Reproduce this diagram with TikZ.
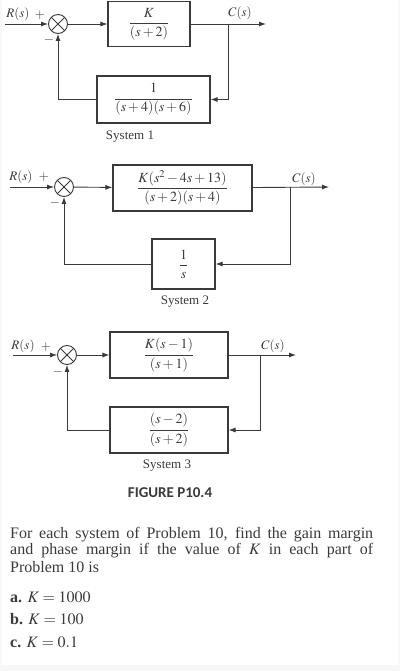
\documentclass[tikz,border=0pt]{standalone}
\usepackage{amsmath}
\usepackage{mathptmx}
\usepackage[no-math]{fontspec}
\setmainfont{Liberation Serif}
\newfontfamily\capfont{Carlito}
\usetikzlibrary{arrows.meta}
\definecolor{ink}{HTML}{3A3A3A}
\begin{document}
\begin{tikzpicture}[x=1pt,y=-1pt]
  \tikzset{blk/.style={draw=ink,line width=1.1pt,rectangle,inner sep=0pt,font=\fontsize{14}{16}\selectfont,text=ink},
    sumj/.style={draw=ink,line width=0.9pt,circle,minimum size=19pt,inner sep=0pt,
      path picture={\draw[ink,line width=0.9pt] (path picture bounding box.north west)--(path picture bounding box.south east)
        (path picture bounding box.north east)--(path picture bounding box.south west);}},
    sig/.style={draw=ink,line width=0.9pt},
    arr/.style={sig,-{Latex[length=7pt,width=5pt]}},
    lbl/.style={font=\fontsize{13}{15}\selectfont,text=ink,inner sep=0pt},
    txt/.style={font=\fontsize{16}{18}\selectfont,text=ink,inner sep=0pt,anchor=west}}
  \useasboundingbox (0,0) rectangle (400,671);
  \fill[black!3] (0,0) rectangle (400,671);
  \fill[white] (2,0) rectangle (398,665);
  % system 1
  \coordinate (r1) at (5,24);
  \node[sumj] (s1) at (58,24) {};
  \node[blk,minimum width=82pt,minimum height=45pt] (g1) at (149,24) {$\dfrac{K}{(s+2)}$};
  \coordinate (b1) at (228,24);
  \coordinate (o1) at (266,24);
  \node[blk,minimum width=113pt,minimum height=47pt] (h1) at (153.5,99.5) {$\dfrac{1}{(s+4)(s+6)}$};
  \node[lbl] (rs1) at (18,14) {$R(s)$};
  \node[lbl] (cs1) at (240,13) {$C(s)$};
  \node[lbl] (p1) at (40,15) {$+$};
  \node[lbl] (m1) at (49,40) {$-$};
  \node[lbl] (t1) at (130,137) {System 1};
  \draw[arr] (r1) -- (s1);
  \draw[arr] (s1) -- (g1);
  \draw[arr] (g1) -- (o1);
  \draw[arr] (b1) |- (h1);
  \draw[arr] (h1) -| (s1);
  % system 2
  \coordinate (r2) at (10,187);
  \node[sumj] (s2) at (64,187) {};
  \node[blk,minimum width=139pt,minimum height=46pt] (g2) at (182.5,188) {$\dfrac{K(s^2-4s+13)}{(s+2)(s+4)}$};
  \coordinate (b2) at (290,187);
  \coordinate (o2) at (329,187);
  \node[blk,minimum width=63pt,minimum height=50pt] (h2) at (183.5,264) {$\dfrac{1}{s}$};
  \node[lbl] (rs2) at (21,177) {$R(s)$};
  \node[lbl] (cs2) at (304,179) {$C(s)$};
  \node[lbl] (p2) at (44,177) {$+$};
  \node[lbl] (m2) at (55,203) {$-$};
  \node[lbl] (t2) at (185,302) {System 2};
  \draw[arr] (r2) -- (s2);
  \draw[arr] (s2) -- (g2);
  \draw[arr] (g2) -- (o2);
  \draw[arr] (b2) |- (h2);
  \draw[arr] (h2) -| (s2);
  % system 3
  \coordinate (r3) at (13,355);
  \node[sumj] (s3) at (67,355) {};
  \node[blk,minimum width=118pt,minimum height=46pt] (g3) at (169,355) {$\dfrac{K(s-1)}{(s+1)}$};
  \coordinate (b3) at (260,355);
  \coordinate (o3) at (296,355);
  \node[blk,minimum width=118pt,minimum height=46pt] (h3) at (169,430) {$\dfrac{(s-2)}{(s+2)}$};
  \node[lbl] (rs3) at (23,346) {$R(s)$};
  \node[lbl] (cs3) at (273,346) {$C(s)$};
  \node[lbl] (p3) at (46,347) {$+$};
  \node[lbl] (m3) at (58,372) {$-$};
  \node[lbl] (t3) at (167,466) {System 3};
  \draw[arr] (r3) -- (s3);
  \draw[arr] (s3) -- (g3);
  \draw[arr] (g3) -- (o3);
  \draw[arr] (b3) |- (h3);
  \draw[arr] (h3) -| (s3);
  % caption and problem text
  \node[font=\capfont\bfseries\fontsize{15}{17}\selectfont,text=ink,inner sep=0pt] (fig) at (170,493) {FIGURE P10.4};
  \node[txt] (l1) at (10,535) {\makebox[363pt][s]{For each system of Problem 10, find the gain margin}};
  \node[txt] (l2) at (10,551) {\makebox[363pt][s]{and phase margin if the value of $K$ in each part of}};
  \node[txt] (l3) at (10,567) {Problem 10 is};
  \node[txt] (qa) at (10,597) {\textbf{a.} $K=1000$};
  \node[txt] (qb) at (10,619) {\textbf{b.} $K=100$};
  \node[txt] (qc) at (10,642) {\textbf{c.} $K=0.1$};
\end{tikzpicture}
\end{document}
